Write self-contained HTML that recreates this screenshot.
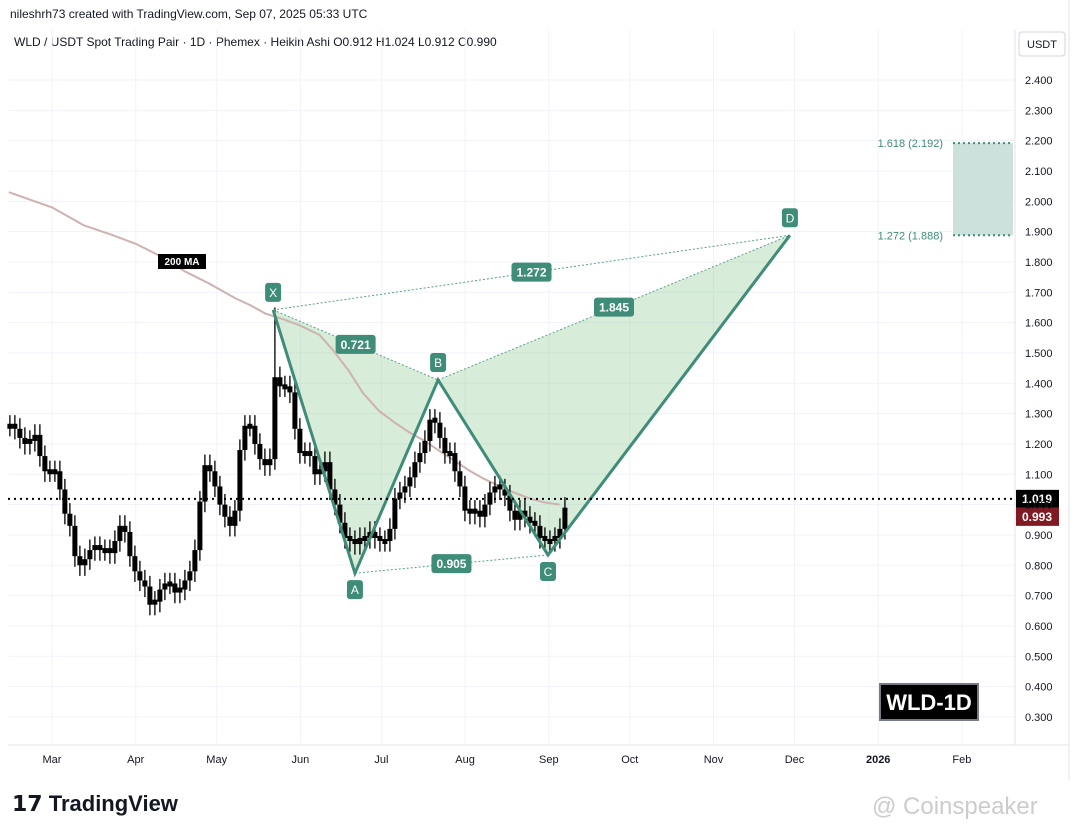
<!DOCTYPE html>
<html><head><meta charset="utf-8"><style>
body{margin:0;background:#fff;width:1079px;height:833px;overflow:hidden;font-family:"Liberation Sans",sans-serif}
svg{display:block}
</style></head><body>
<svg id="c" width="1079" height="833">
<text x="10" y="18" font-size="12" fill="#131722">nileshrh73 created with TradingView.com, Sep 07, 2025 05:33 UTC</text>
<text x="14" y="46" font-size="12" fill="#131722">WLD / USDT Spot Trading Pair · 1D · Phemex · Heikin Ashi  O0.912  H1.024  L0.912  C0.990</text>
<rect x="1019" y="32" width="46" height="24" rx="3" fill="#fff" stroke="#d1d4dc"/>
<text x="1042" y="48" font-size="11" text-anchor="middle" fill="#131722">USDT</text>
<g id="grid"></g><g id="pattern"></g><g id="ma"></g><g id="candles"></g><g id="over"></g><g id="axes"></g>
<rect x="880" y="684" width="98" height="36" fill="#000" stroke="#787b86" stroke-width="2"/>
<text x="929" y="710" font-size="22" font-weight="bold" fill="#fff" text-anchor="middle">WLD-1D</text>
<text x="12" y="811" font-size="22" font-weight="bold" fill="#131722">𝟭𝟳 TradingView</text>
<text x="872" y="814" font-size="24" fill="#cccccc">@ Coinspeaker</text>
</svg>
<script>
const priceTicks=[2.4,2.3,2.2,2.1,2.0,1.9,1.8,1.7,1.6,1.5,1.4,1.3,1.2,1.1,1.0,0.9,0.8,0.7,0.6,0.5,0.4,0.3];
const monthLabels=["Mar","Apr","May","Jun","Jul","Aug","Sep","Oct","Nov","Dec","2026","Feb"];
const monthDays=[0,31,61,92,122,153,184,214,245,275,306,337];
const closes=[1.26,1.25,1.22,1.20,1.21,1.23,1.16,1.11,1.11,1.11,1.05,0.97,0.93,0.83,0.80,0.82,0.85,0.86,0.85,0.85,0.84,0.88,0.93,0.91,0.83,0.78,0.75,0.73,0.67,0.68,0.72,0.74,0.74,0.71,0.72,0.75,0.78,0.85,1.01,1.13,1.11,1.06,1.00,0.96,0.93,0.98,1.18,1.26,1.26,1.20,1.15,1.13,1.15,1.42,1.39,1.39,1.37,1.25,1.17,1.17,1.16,1.10,1.11,1.14,1.05,1.00,0.94,0.89,0.88,0.87,0.89,0.89,0.91,0.89,0.88,0.88,0.92,1.02,1.04,1.06,1.09,1.14,1.17,1.21,1.28,1.27,1.22,1.17,1.17,1.11,1.06,0.98,0.97,0.98,0.96,1.00,1.04,1.06,1.05,1.03,0.98,0.95,0.98,0.96,0.94,0.93,0.89,0.88,0.88,0.89,0.92,0.99];
const firstDay=-15.6, dayStep=1.852;
const maDays=[-16,0,12,22,31,40,49,58,68,74,79,86,92,99,104,110,115,121,127,132,138,143,149,155,160,166,171,177,182,188];
const maValues=[2.03,1.98,1.92,1.89,1.86,1.82,1.77,1.73,1.68,1.655,1.63,1.61,1.59,1.56,1.51,1.44,1.37,1.31,1.27,1.24,1.21,1.18,1.145,1.11,1.085,1.06,1.04,1.02,1.008,1.00];
const patternNames=["X","A","B","C","D"];
const patternDays=[81.9,112.2,143,183.7,273.3];
const patternPrices=[1.642,0.774,1.411,0.834,1.888];
const ratioLabels=["0.721","1.845","1.272","0.905"];
const fibLevels=[2.192,1.888];const fibRatios=["1.618","1.272"];
const lastPrice=1.019, maPrice=0.993;

const NS="http://www.w3.org/2000/svg";
const X=d=>52+d*2.7, Y=p=>80+(2.4-p)*303.3;
function mk(par,tag,at){const e=document.createElementNS(NS,tag);for(const k in at)e.setAttribute(k,at[k]);document.getElementById(par).appendChild(e);return e;}
priceTicks.forEach(p=>{
 const l=mk('grid','line',{x1:8,x2:1015,y1:Y(p),y2:Y(p),stroke:'#f0f3fa'});
 
 
 const t=mk('axes','text',{x:1025,y:Y(p)+4,'font-size':11,fill:'#131722'});t.textContent=p.toFixed(3);
 
 
});
monthLabels.forEach((m,i)=>{
 const l=mk('grid','line',{x1:X(monthDays[i]),x2:X(monthDays[i]),y1:30,y2:745,stroke:'#f0f3fa'});
 
 
 const t=mk('axes','text',{x:X(monthDays[i]),y:763,'font-size':11,fill:'#131722','text-anchor':'middle','font-weight':m=="2026"?'bold':'normal'});t.textContent=m;
 
 
});
let a=mk('axes','line',{x1:1015,x2:1015,y1:30,y2:745,stroke:'#e0e3eb'});
a=mk('axes','line',{x1:8,x2:1069,y1:745,y2:745,stroke:'#e0e3eb'});
a=mk('axes','line',{x1:1069,x2:1069,y1:0,y2:780,stroke:'#e0e3eb'});
const fz=mk('pattern','rect',{x:953,y:Y(fibLevels[0]),width:60,height:Y(fibLevels[1])-Y(fibLevels[0]),fill:'#cde1dc'});

fibLevels.forEach((f,i)=>{
 const l=mk('pattern','line',{x1:953,x2:1013,y1:Y(f),y2:Y(f),stroke:'#3f8c78','stroke-width':2,'stroke-dasharray':'2 3'});
 
 const t=mk('pattern','text',{x:943,y:Y(f)+4,'font-size':11,fill:'#3f8c78','text-anchor':'end'});t.textContent=fibRatios[i]+" ("+f.toFixed(3)+")";
 
});
const P=patternDays.map((d,i)=>[X(d),Y(patternPrices[i])]);
const pt=i=>P[i].join(',');
let f=mk('pattern','polygon',{points:[pt(0),pt(1),pt(2)].join(' '),fill:'rgba(76,175,80,0.22)'});
f=mk('pattern','polygon',{points:[pt(2),pt(3),pt(4)].join(' '),fill:'rgba(76,175,80,0.22)'});
[[0,2],[2,4],[0,4],[1,3]].forEach(([i,j])=>{
 const l=mk('over','line',{x1:P[i][0],y1:P[i][1],x2:P[j][0],y2:P[j][1],stroke:'#5a9e8c','stroke-width':1,'stroke-dasharray':'2 2'});
 
});
const leg=mk('over','polyline',{points:P.map(p=>p.join(',')).join(' '),fill:'none',stroke:'#3f8c78','stroke-width':3,'stroke-linejoin':'miter'});

[[0,2],[2,4],[0,4],[1,3]].forEach(([i,j],k)=>{
 const mx=(P[i][0]+P[j][0])/2, my=(P[i][1]+P[j][1])/2;
 const r=mk('over','rect',{x:mx-20,y:my-10,width:40,height:19,rx:3,fill:'#3f8c78'});
 
 const t=mk('over','text',{x:mx,y:my+4,'font-size':12,'font-weight':'bold',fill:'#fff','text-anchor':'middle'});t.textContent=ratioLabels[k];
 
});
patternNames.forEach((n,i)=>{
 const up=(i%2==0);const cy=up?P[i][1]-17:P[i][1]+17;
 const r=mk('over','rect',{x:P[i][0]-8,y:cy-10,width:16,height:19,rx:3,fill:'#3f8c78'});
 
 const t=mk('over','text',{x:P[i][0],y:cy+4,'font-size':12,fill:'#fff','text-anchor':'middle'});t.textContent=n;
 
});
const ma=mk('ma','polyline',{points:maDays.map((d,i)=>X(d)+','+Y(maValues[i])).join(' '),fill:'none',stroke:'#cdb2b0','stroke-width':2,'stroke-linejoin':'round'});

const mr=mk('over','rect',{x:158,y:254,width:48,height:15,fill:'#000'});
const mt=mk('over','text',{x:182,y:265,'font-size':10,fill:'#fff','text-anchor':'middle','font-weight':'bold'});mt.textContent="200 MA";

closes.forEach((c,i)=>{
 const o=i?closes[i-1]:c, x=X(firstDay+i*dayStep);
 let hi=Math.max(o,c)+0.035, lo=Math.min(o,c)-0.035;
 if(i==53)hi=1.65;
 const w=mk('candles','line',{x1:x,x2:x,y1:Y(hi),y2:Y(lo),stroke:'#000','stroke-width':1.3});
 
 const top=Math.min(Y(o),Y(c));const h=Math.max(5,Math.abs(Y(o)-Y(c)));
 const b=mk('candles','rect',{x:x-2.5,y:top-(h>Math.abs(Y(o)-Y(c))?2:0),width:5,height:h,fill:'#000'});
 
});
const pl=mk('over','line',{x1:8,x2:1015,y1:Y(lastPrice),y2:Y(lastPrice),stroke:'#000','stroke-width':2,'stroke-dasharray':'2 4'});

[[lastPrice,'#000',Y(lastPrice)-9],[maPrice,'#801922',Y(lastPrice)+9]].forEach(([v,col,yy])=>{
 const r=mk('over','rect',{x:1016,y:yy,width:43,height:18,fill:col});
 
 const t=mk('over','text',{x:1037,y:yy+13,'font-size':12,'font-weight':'bold',fill:'#fff','text-anchor':'middle'});t.textContent=v.toFixed(3);
 
});
</script>
</body></html>
